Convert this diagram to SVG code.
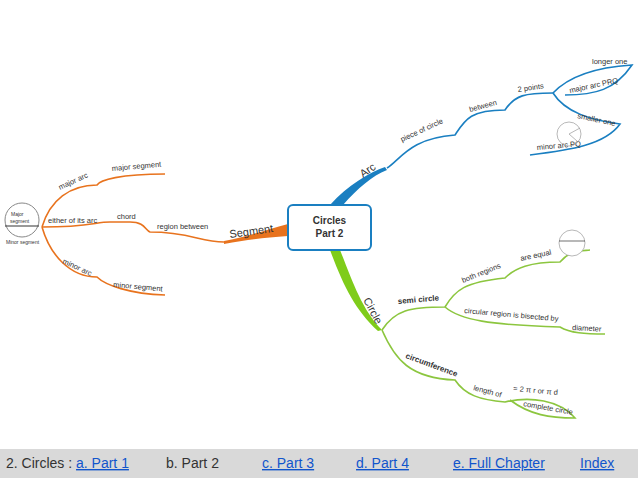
<svg xmlns="http://www.w3.org/2000/svg" width="638" height="478" viewBox="0 0 638 478">
<style>
text{font-family:"Liberation Sans",Arial,sans-serif;fill:#333}
.l{font-size:7.5px}
.o{stroke:#e8731e;fill:none;stroke-width:1.6}
.b{stroke:#1a7fc1;fill:none;stroke-width:1.6}
.g{stroke:#8cc63f;fill:none;stroke-width:1.6}
.a{fill:#1155cc;text-decoration:underline}
</style>
<rect width="638" height="478" fill="#fff"/>
<g id="connectors">
<path d="M288,236 C262,238 245,240 224,244 L224,241 C250,236 265,230 288,224Z" fill="#e8731e"/>
<path class="o" d="M224,242 C200,242 190,232 150,232 C145,230 145,222 130,222 L110,222 C95,222 90,227 42,227"/>
<path class="o" d="M42,227 C50,200 70,185 97,185 C100,180 120,174 165,174"/>
<path class="o" d="M42,227 C50,255 70,277 97,277 C105,285 130,294 165,295"/>
<path d="M343,205 C358,188 372,176 387,170 L385,167 C370,172 348,185 330,205Z" fill="#1a7fc1"/>
<path class="b" d="M387,168 C400,160 410,138 455,135 C465,120 470,110 505,110 C515,95 525,93 553,93"/>
<path class="b" d="M553,93 C570,75 600,67 632,65 C615,90 595,95 565,95"/>
<path class="b" d="M553,93 C565,112 590,120 620,124 C605,145 570,150 530,155"/>
<path d="M340,250 C352,280 362,310 382,330 L378,331 C355,310 343,285 330,250Z" fill="#7fcc1a"/>
<path class="g" d="M382,330 C395,310 410,307 445,307 C455,290 465,282 505,278 C515,268 530,262 560,262 C570,250 580,251 590,250"/>
<path class="g" d="M445,307 C460,320 490,325 560,327 C570,333 585,334 605,334"/>
<path class="g" d="M382,330 C395,360 410,378 455,380 C465,395 480,400 505,402 C530,396 560,400 575,418 C550,418 530,415 510,400"/>
</g>
<g id="center"><rect x="288" y="205" width="83" height="45" rx="5" fill="#fff" stroke="#1a7fc1" stroke-width="2"/>
<text x="329.5" y="224" text-anchor="middle" font-size="10" font-weight="bold">Circles</text>
<text x="329.5" y="237" text-anchor="middle" font-size="10" font-weight="bold">Part 2</text></g>
<g id="seg"><text x="230" y="238" font-size="11" transform="rotate(-8 230 238)">Segment</text>
<text class="l" x="157" y="229">region between</text>
<text class="l" x="117" y="219">chord</text>
<text class="l" x="48" y="223">either of its arc</text>
<text class="l" x="60" y="190" transform="rotate(-25 60 190)">major arc</text>
<text class="l" x="112" y="171" transform="rotate(-5 112 171)">major segment</text>
<text class="l" x="62" y="263" transform="rotate(25 62 263)">minor arc</text>
<text class="l" x="113" y="287" transform="rotate(5 113 287)">minor segment</text>
<circle cx="22" cy="220" r="17" fill="#fff" stroke="#888"/><line x1="5" y1="226" x2="39" y2="226" stroke="#333"/>
<text x="11" y="216" font-size="5">Major</text><text x="10" y="223" font-size="5">segment</text>
<text x="6" y="244" font-size="5">Minor segment</text></g>
<g id="arc"><text x="363" y="178" font-size="11" transform="rotate(-35 363 178)">Arc</text>
<text class="l" x="402" y="142" transform="rotate(-25 402 142)">piece of circle</text>
<text class="l" x="470" y="112" transform="rotate(-15 470 112)">between</text>
<text class="l" x="518" y="92" transform="rotate(-8 518 92)">2 points</text>
<text class="l" x="592" y="64">longer one</text>
<text class="l" x="570" y="93" transform="rotate(-12 570 93)">major arc PRQ</text>
<text class="l" x="577" y="118" transform="rotate(12 577 118)">smaller one</text>
<text class="l" x="537" y="150" transform="rotate(-5 537 150)">minor arc PQ</text>
<circle cx="569" cy="134" r="12" fill="none" stroke="#999" stroke-width="0.7"/>
<path d="M569,134 L580,128 M569,134 L577,141" stroke="#999" stroke-width="0.7"/></g>
<g id="circ"><text x="363" y="300" font-size="11" transform="rotate(62 363 300)">Circle</text>
<text x="398" y="304" font-size="8" font-weight="bold" transform="rotate(-5 398 304)">semi circle</text>
<text class="l" x="463" y="283" transform="rotate(-22 463 283)">both regions</text>
<text class="l" x="521" y="261" transform="rotate(-12 521 261)">are equal</text>
<circle cx="572" cy="243" r="13" fill="#fff" stroke="#999" stroke-width="0.7"/><line x1="559" y1="241" x2="585" y2="241" stroke="#333" stroke-width="0.7"/>
<text class="l" x="464" y="313" transform="rotate(5 464 313)">circular region is bisected by</text>
<text class="l" x="572" y="330" transform="rotate(3 572 330)">diameter</text>
<text x="405" y="358" font-size="8" font-weight="bold" transform="rotate(20 405 358)">circumference</text>
<text class="l" x="473" y="390" transform="rotate(15 473 390)">length of</text>
<text class="l" x="513" y="391" transform="rotate(5 513 391)">= 2 π r or π d</text>
<text class="l" x="523" y="406" transform="rotate(10 523 406)">complete circle</text></g>
<g id="footer"><rect x="0" y="449" width="638" height="29" fill="#d9d9d9"/>
<text x="6" y="468" font-size="14">2. Circles : <tspan class="a">a. Part 1</tspan></text>
<text x="166" y="468" font-size="14">b. Part 2</text>
<text x="262" y="468" font-size="14" class="a">c. Part 3</text>
<text x="356" y="468" font-size="14" class="a">d. Part 4</text>
<text x="453" y="468" font-size="14" class="a">e. Full Chapter</text>
<text x="580" y="468" font-size="14" class="a">Index</text></g>
</svg>
